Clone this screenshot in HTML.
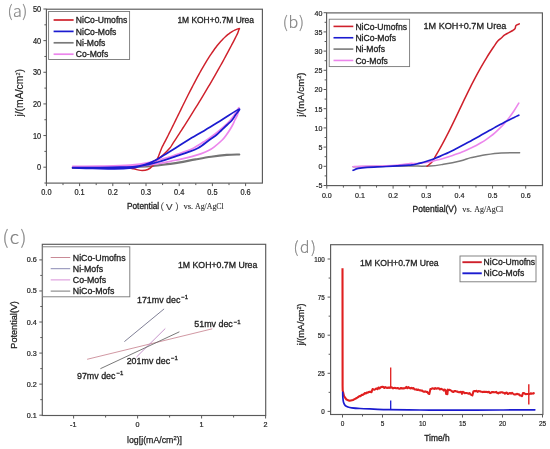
<!DOCTYPE html>
<html><head><meta charset="utf-8"><title>Figure</title>
<style>html,body{margin:0;padding:0;background:#fff;width:550px;height:449px;overflow:hidden}svg{display:block;filter:blur(0.35px)}</style>
</head><body>
<svg width="550" height="449" viewBox="0 0 550 449">
<rect width="550" height="449" fill="#fff"/>
<rect x="46.4" y="9.2" width="216" height="173.9" fill="none" stroke="#5a5a5a" stroke-width="1.15"/>
<line x1="46.4" y1="183.1" x2="46.4" y2="186.1" stroke="#5a5a5a" stroke-width="1"/>
<line x1="79.6" y1="183.1" x2="79.6" y2="186.1" stroke="#5a5a5a" stroke-width="1"/>
<line x1="112.8" y1="183.1" x2="112.8" y2="186.1" stroke="#5a5a5a" stroke-width="1"/>
<line x1="146" y1="183.1" x2="146" y2="186.1" stroke="#5a5a5a" stroke-width="1"/>
<line x1="179.2" y1="183.1" x2="179.2" y2="186.1" stroke="#5a5a5a" stroke-width="1"/>
<line x1="212.4" y1="183.1" x2="212.4" y2="186.1" stroke="#5a5a5a" stroke-width="1"/>
<line x1="245.6" y1="183.1" x2="245.6" y2="186.1" stroke="#5a5a5a" stroke-width="1"/>
<line x1="63" y1="183.1" x2="63" y2="185.1" stroke="#5a5a5a" stroke-width="1"/>
<line x1="96.2" y1="183.1" x2="96.2" y2="185.1" stroke="#5a5a5a" stroke-width="1"/>
<line x1="129.4" y1="183.1" x2="129.4" y2="185.1" stroke="#5a5a5a" stroke-width="1"/>
<line x1="162.6" y1="183.1" x2="162.6" y2="185.1" stroke="#5a5a5a" stroke-width="1"/>
<line x1="195.8" y1="183.1" x2="195.8" y2="185.1" stroke="#5a5a5a" stroke-width="1"/>
<line x1="229" y1="183.1" x2="229" y2="185.1" stroke="#5a5a5a" stroke-width="1"/>
<line x1="43.4" y1="167.2" x2="46.4" y2="167.2" stroke="#5a5a5a" stroke-width="1"/>
<line x1="43.4" y1="135.56" x2="46.4" y2="135.56" stroke="#5a5a5a" stroke-width="1"/>
<line x1="43.4" y1="103.92" x2="46.4" y2="103.92" stroke="#5a5a5a" stroke-width="1"/>
<line x1="43.4" y1="72.28" x2="46.4" y2="72.28" stroke="#5a5a5a" stroke-width="1"/>
<line x1="43.4" y1="40.64" x2="46.4" y2="40.64" stroke="#5a5a5a" stroke-width="1"/>
<line x1="43.4" y1="9" x2="46.4" y2="9" stroke="#5a5a5a" stroke-width="1"/>
<line x1="44.4" y1="151.38" x2="46.4" y2="151.38" stroke="#5a5a5a" stroke-width="1"/>
<line x1="44.4" y1="119.74" x2="46.4" y2="119.74" stroke="#5a5a5a" stroke-width="1"/>
<line x1="44.4" y1="88.1" x2="46.4" y2="88.1" stroke="#5a5a5a" stroke-width="1"/>
<line x1="44.4" y1="56.46" x2="46.4" y2="56.46" stroke="#5a5a5a" stroke-width="1"/>
<line x1="44.4" y1="24.82" x2="46.4" y2="24.82" stroke="#5a5a5a" stroke-width="1"/>
<line x1="44.4" y1="183.02" x2="46.4" y2="183.02" stroke="#5a5a5a" stroke-width="1"/>
<text x="46.4" y="195" font-size="8.2" font-family="'Liberation Sans', Arial, sans-serif" fill="#262626" stroke="#262626" stroke-width="0.22" text-anchor="middle" textLength="10.26" lengthAdjust="spacingAndGlyphs">0.0</text>
<text x="79.6" y="195" font-size="8.2" font-family="'Liberation Sans', Arial, sans-serif" fill="#262626" stroke="#262626" stroke-width="0.22" text-anchor="middle" textLength="10.26" lengthAdjust="spacingAndGlyphs">0.1</text>
<text x="112.8" y="195" font-size="8.2" font-family="'Liberation Sans', Arial, sans-serif" fill="#262626" stroke="#262626" stroke-width="0.22" text-anchor="middle" textLength="10.26" lengthAdjust="spacingAndGlyphs">0.2</text>
<text x="146" y="195" font-size="8.2" font-family="'Liberation Sans', Arial, sans-serif" fill="#262626" stroke="#262626" stroke-width="0.22" text-anchor="middle" textLength="10.26" lengthAdjust="spacingAndGlyphs">0.3</text>
<text x="179.2" y="195" font-size="8.2" font-family="'Liberation Sans', Arial, sans-serif" fill="#262626" stroke="#262626" stroke-width="0.22" text-anchor="middle" textLength="10.26" lengthAdjust="spacingAndGlyphs">0.4</text>
<text x="212.4" y="195" font-size="8.2" font-family="'Liberation Sans', Arial, sans-serif" fill="#262626" stroke="#262626" stroke-width="0.22" text-anchor="middle" textLength="10.26" lengthAdjust="spacingAndGlyphs">0.5</text>
<text x="245.6" y="195" font-size="8.2" font-family="'Liberation Sans', Arial, sans-serif" fill="#262626" stroke="#262626" stroke-width="0.22" text-anchor="middle" textLength="10.26" lengthAdjust="spacingAndGlyphs">0.6</text>
<text x="41.2" y="170.2" font-size="8.2" font-family="'Liberation Sans', Arial, sans-serif" fill="#262626" stroke="#262626" stroke-width="0.22" text-anchor="end" textLength="4.1" lengthAdjust="spacingAndGlyphs">0</text>
<text x="41.2" y="138.56" font-size="8.2" font-family="'Liberation Sans', Arial, sans-serif" fill="#262626" stroke="#262626" stroke-width="0.22" text-anchor="end" textLength="8.21" lengthAdjust="spacingAndGlyphs">10</text>
<text x="41.2" y="106.92" font-size="8.2" font-family="'Liberation Sans', Arial, sans-serif" fill="#262626" stroke="#262626" stroke-width="0.22" text-anchor="end" textLength="8.21" lengthAdjust="spacingAndGlyphs">20</text>
<text x="41.2" y="75.28" font-size="8.2" font-family="'Liberation Sans', Arial, sans-serif" fill="#262626" stroke="#262626" stroke-width="0.22" text-anchor="end" textLength="8.21" lengthAdjust="spacingAndGlyphs">30</text>
<text x="41.2" y="43.64" font-size="8.2" font-family="'Liberation Sans', Arial, sans-serif" fill="#262626" stroke="#262626" stroke-width="0.22" text-anchor="end" textLength="8.21" lengthAdjust="spacingAndGlyphs">40</text>
<text x="41.2" y="12" font-size="8.2" font-family="'Liberation Sans', Arial, sans-serif" fill="#262626" stroke="#262626" stroke-width="0.22" text-anchor="end" textLength="8.21" lengthAdjust="spacingAndGlyphs">50</text>
<text x="7.4" y="17.1" font-size="16" font-family="'Noto Sans CJK SC', 'DejaVu Sans', sans-serif" fill="#858585" stroke="#858585" stroke-width="0.2" font-weight="300" letter-spacing="0.5">(a)</text>
<text x="127" y="209.1" font-size="8.7" font-family="'Liberation Sans', Arial, sans-serif" fill="#222" stroke="#222" stroke-width="0.3" textLength="32.2" lengthAdjust="spacingAndGlyphs">Potential</text>
<text y="209.6" font-size="9" font-family="'Liberation Sans', Arial, sans-serif" fill="#333" stroke="#333" stroke-width="0.15"><tspan x="155.1" font-family="'Noto Sans CJK SC', sans-serif">（</tspan><tspan x="166" font-size="9.8">V</tspan><tspan x="175.2" font-family="'Noto Sans CJK SC', sans-serif">）</tspan></text>
<text y="209.4" font-size="8" font-family="'Liberation Serif', 'Noto Serif CJK SC', serif" fill="#2a2a2a" stroke="#2a2a2a" stroke-width="0.1"><tspan x="183.4" font-size="8.6" textLength="9.8" lengthAdjust="spacingAndGlyphs">vs.</tspan> <tspan x="195" textLength="28.8" lengthAdjust="spacingAndGlyphs">Ag/AgCl</tspan></text>
<text transform="translate(23,116.6) rotate(-90)" font-size="10.4" stroke="#222" stroke-width="0.15" font-family="'Liberation Sans', Arial, sans-serif" fill="#222">j/(mA/cm<tspan font-size="5.5" dy="-3">2</tspan><tspan dy="3">)</tspan></text>
<rect x="48.6" y="11.5" width="81" height="48" fill="#fff" stroke="#777" stroke-width="0.9"/>
<line x1="53.6" y1="20" x2="73.6" y2="20" stroke="#cf202b" stroke-width="1.7"/>
<text x="75.8" y="23.1" font-size="8.6" font-family="'Liberation Sans', Arial, sans-serif" fill="#222" stroke="#222" stroke-width="0.3">NiCo-Umofns</text>
<line x1="53.6" y1="31.4" x2="73.6" y2="31.4" stroke="#1b1bd0" stroke-width="1.7"/>
<text x="75.8" y="34.5" font-size="8.6" font-family="'Liberation Sans', Arial, sans-serif" fill="#222" stroke="#222" stroke-width="0.3">NiCo-Mofs</text>
<line x1="53.6" y1="42.8" x2="73.6" y2="42.8" stroke="#7a7a7a" stroke-width="1.7"/>
<text x="75.8" y="45.9" font-size="8.6" font-family="'Liberation Sans', Arial, sans-serif" fill="#222" stroke="#222" stroke-width="0.3">Ni-Mofs</text>
<line x1="53.6" y1="54.2" x2="73.6" y2="54.2" stroke="#ec86ec" stroke-width="1.7"/>
<text x="75.8" y="57.3" font-size="8.6" font-family="'Liberation Sans', Arial, sans-serif" fill="#222" stroke="#222" stroke-width="0.3">Co-Mofs</text>
<text x="177.4" y="22.5" font-size="8.4" font-family="'Liberation Sans', Arial, sans-serif" fill="#222" stroke="#222" stroke-width="0.3" textLength="76.6" lengthAdjust="spacingAndGlyphs">1M KOH+0.7M Urea</text>
<path d="M72.7,167.8 C78.92,167.77 98.78,167.77 110,167.6 C121.22,167.43 132.5,167.12 140,166.8 C147.5,166.48 150,166.18 155,165.7 C160,165.22 165.83,164.45 170,163.9 C174.17,163.35 175.73,163.15 180,162.4 C184.27,161.65 190.4,160.35 195.6,159.4 C200.8,158.45 206,157.45 211.2,156.7 C216.4,155.95 222.12,155.27 226.8,154.9 C231.48,154.53 237.22,154.57 239.3,154.5" fill="none" stroke="#747474" stroke-width="2.1" stroke-linejoin="round" stroke-linecap="round"/>
<path d="M72.7,167.6 C77.25,167.6 91.28,167.57 100,167.6 C108.72,167.63 119.4,167.6 125,167.8 C130.6,168 130.98,168.37 133.6,168.8 C136.22,169.23 138.33,170.28 140.7,170.4 C143.07,170.52 145.75,170.32 147.8,169.5 C149.85,168.68 151.38,167.33 153,165.5 C154.62,163.67 156.03,161.47 157.5,158.5 C158.97,155.53 160.69,150.23 161.8,147.68 C162.91,145.13 163.37,144.7 164.15,143.18 C164.94,141.67 165.72,140.14 166.51,138.6 C167.29,137.06 168.08,135.5 168.86,133.94 C169.65,132.38 170.43,130.8 171.22,129.22 C172,127.64 172.79,126.05 173.57,124.46 C174.36,122.87 175.14,121.27 175.93,119.67 C176.71,118.07 177.5,116.47 178.28,114.87 C179.07,113.27 179.85,111.67 180.64,110.07 C181.42,108.47 182.21,106.87 182.99,105.28 C183.78,103.69 184.56,102.1 185.35,100.52 C186.13,98.94 186.92,97.37 187.7,95.8 C188.48,94.24 189.27,92.69 190.05,91.14 C190.84,89.6 191.62,88.07 192.41,86.55 C193.19,85.04 193.98,83.53 194.76,82.05 C195.55,80.56 196.33,79.09 197.12,77.63 C197.9,76.18 198.69,74.75 199.47,73.33 C200.26,71.92 201.04,70.52 201.83,69.15 C202.61,67.78 203.4,66.43 204.18,65.1 C204.97,63.78 205.75,62.48 206.54,61.2 C207.32,59.93 208.11,58.68 208.89,57.46 C209.68,56.24 210.46,55.05 211.25,53.89 C212.03,52.73 212.82,51.6 213.6,50.5 C214.38,49.41 215.17,48.34 215.95,47.31 C216.74,46.28 217.52,45.28 218.31,44.32 C219.09,43.36 219.88,42.44 220.66,41.55 C221.45,40.67 222.23,39.82 223.02,39.01 C223.8,38.2 224.59,37.43 225.37,36.71 C226.16,35.98 226.94,35.3 227.73,34.66 C228.51,34.02 229.3,33.42 230.08,32.86 C230.87,32.31 231.65,31.8 232.44,31.34 C233.22,30.88 234.01,30.47 234.79,30.1 C235.58,29.74 236.36,29.42 237.15,29.16 C237.93,28.89 239.26,28.29 239.5,28.51 C239.74,28.73 238.91,29.69 238.6,30.5 C238.29,31.31 238.11,32.26 237.61,33.4 C237.11,34.54 236.28,36.03 235.61,37.35 C234.94,38.67 234.27,39.99 233.59,41.3 C232.91,42.62 232.22,43.94 231.53,45.26 C230.84,46.57 230.15,47.89 229.45,49.21 C228.75,50.52 228.05,51.84 227.34,53.16 C226.63,54.48 225.92,55.79 225.2,57.11 C224.49,58.43 223.77,59.74 223.04,61.06 C222.31,62.38 221.59,63.7 220.85,65.01 C220.12,66.33 219.38,67.65 218.64,68.97 C217.9,70.28 217.15,71.6 216.4,72.92 C215.65,74.23 214.89,75.55 214.14,76.87 C213.38,78.19 212.61,79.5 211.85,80.82 C211.08,82.14 210.31,83.46 209.54,84.77 C208.77,86.09 207.99,87.41 207.21,88.72 C206.43,90.04 205.64,91.36 204.85,92.68 C204.06,93.99 203.27,95.31 202.48,96.63 C201.68,97.94 200.88,99.26 200.08,100.58 C199.28,101.9 198.47,103.21 197.66,104.53 C196.85,105.85 196.04,107.17 195.22,108.48 C194.41,109.8 193.59,111.12 192.77,112.43 C191.94,113.75 191.12,115.07 190.29,116.39 C189.46,117.7 188.63,119.02 187.8,120.34 C186.96,121.66 186.12,122.97 185.28,124.29 C184.44,125.61 183.6,126.92 182.75,128.24 C181.91,129.56 181.06,130.88 180.21,132.19 C179.36,133.51 178.5,134.83 177.65,136.14 C176.79,137.46 175.93,138.78 175.07,140.1 C174.21,141.41 173.34,142.73 172.48,144.05 C171.61,145.37 171.45,146.17 169.87,148 C168.29,149.83 165.19,153.05 163,155 C160.81,156.95 159.23,158.17 156.7,159.7 C154.17,161.23 150.77,163.1 147.8,164.2 C144.83,165.3 141.87,165.77 138.9,166.3 C135.93,166.83 134.82,167.18 130,167.4 C125.18,167.62 119.55,167.57 110,167.6 C100.45,167.63 78.92,167.6 72.7,167.6" fill="none" stroke="#cf202b" stroke-width="1.45" stroke-linejoin="round" stroke-linecap="round"/>
<path d="M72.7,166.4 C77.25,166.37 90.45,166.4 100,166.2 C109.55,166 121.67,165.85 130,165.2 C138.33,164.55 143.33,163.7 150,162.3 C156.67,160.9 164.17,158.6 170,156.8 C175.83,155 181.03,152.97 185,151.5 C188.97,150.03 190.37,149.82 193.8,148 C197.23,146.18 202.73,142.43 205.6,140.6 C208.47,138.77 209.1,138.35 211,137 C212.9,135.65 214.83,134.25 217,132.5 C219.17,130.75 221.83,128.5 224,126.5 C226.17,124.5 228.17,122.58 230,120.5 C231.83,118.42 233.52,116.17 235,114 C236.48,111.83 238.5,107.33 238.9,107.5 C239.3,107.67 238.07,112.92 237.4,115 C236.73,117.08 235.7,118.33 234.9,120 C234.1,121.67 233.47,123.33 232.6,125 C231.73,126.67 230.75,128.33 229.7,130 C228.65,131.67 227.55,133.33 226.3,135 C225.05,136.67 224.2,138.03 222.2,140 C220.2,141.97 216.58,145.03 214.3,146.8 C212.02,148.57 210.65,149.47 208.5,150.6 C206.35,151.73 204.1,152.63 201.4,153.6 C198.7,154.57 195.33,155.57 192.3,156.4 C189.27,157.23 186.23,157.92 183.2,158.6 C180.17,159.28 178.52,159.63 174.1,160.5 C169.68,161.37 164.05,162.78 156.7,163.8 C149.35,164.82 139.45,166.07 130,166.6 C120.55,167.13 109.55,166.93 100,167 C90.45,167.07 77.25,167 72.7,167" fill="none" stroke="#ec86ec" stroke-width="1.7" stroke-linejoin="round" stroke-linecap="round"/>
<path d="M72.7,167.6 C77.25,167.58 92.12,167.57 100,167.5 C107.88,167.43 114.17,167.37 120,167.2 C125.83,167.03 130.83,166.95 135,166.5 C139.17,166.05 141.67,165.5 145,164.5 C148.33,163.5 151.67,162.17 155,160.5 C158.33,158.83 161.57,156.58 165,154.5 C168.43,152.42 171.73,150.42 175.6,148 C179.47,145.58 183.25,143 188.2,140 C193.15,137 199.73,133.33 205.3,130 C210.87,126.67 216,123.45 221.6,120 C227.2,116.55 236.58,110.13 238.9,109.3 C241.22,108.47 236.62,113.22 235.5,115 C234.38,116.78 233.62,118.33 232.2,120 C230.78,121.67 228.75,123.33 227,125 C225.25,126.67 223.47,128.33 221.7,130 C219.93,131.67 218.47,133.33 216.4,135 C214.33,136.67 212.33,137.83 209.3,140 C206.27,142.17 201.95,145.9 198.2,148 C194.45,150.1 190.67,151.17 186.8,152.6 C182.93,154.03 179.47,155.12 175,156.6 C170.53,158.08 164.62,160.15 160,161.5 C155.38,162.85 150.82,163.87 147.3,164.7 C143.78,165.53 141.45,165.95 138.9,166.5 C136.35,167.05 136.07,167.6 132,168 C127.93,168.4 121.05,168.83 114.5,168.9 C107.95,168.97 99.67,168.55 92.7,168.4 C85.73,168.25 76.03,168.07 72.7,168" fill="none" stroke="#1b1bd0" stroke-width="1.75" stroke-linejoin="round" stroke-linecap="round"/>
<rect x="326.6" y="12.9" width="215.8" height="172.7" fill="none" stroke="#5a5a5a" stroke-width="1.15"/>
<line x1="326.8" y1="185.6" x2="326.8" y2="188.6" stroke="#5a5a5a" stroke-width="1"/>
<line x1="359.95" y1="185.6" x2="359.95" y2="188.6" stroke="#5a5a5a" stroke-width="1"/>
<line x1="393.1" y1="185.6" x2="393.1" y2="188.6" stroke="#5a5a5a" stroke-width="1"/>
<line x1="426.25" y1="185.6" x2="426.25" y2="188.6" stroke="#5a5a5a" stroke-width="1"/>
<line x1="459.4" y1="185.6" x2="459.4" y2="188.6" stroke="#5a5a5a" stroke-width="1"/>
<line x1="492.55" y1="185.6" x2="492.55" y2="188.6" stroke="#5a5a5a" stroke-width="1"/>
<line x1="525.7" y1="185.6" x2="525.7" y2="188.6" stroke="#5a5a5a" stroke-width="1"/>
<line x1="343.38" y1="185.6" x2="343.38" y2="187.6" stroke="#5a5a5a" stroke-width="1"/>
<line x1="376.53" y1="185.6" x2="376.53" y2="187.6" stroke="#5a5a5a" stroke-width="1"/>
<line x1="409.68" y1="185.6" x2="409.68" y2="187.6" stroke="#5a5a5a" stroke-width="1"/>
<line x1="442.82" y1="185.6" x2="442.82" y2="187.6" stroke="#5a5a5a" stroke-width="1"/>
<line x1="475.98" y1="185.6" x2="475.98" y2="187.6" stroke="#5a5a5a" stroke-width="1"/>
<line x1="509.12" y1="185.6" x2="509.12" y2="187.6" stroke="#5a5a5a" stroke-width="1"/>
<line x1="323.6" y1="185.5" x2="326.6" y2="185.5" stroke="#5a5a5a" stroke-width="1"/>
<line x1="323.6" y1="166.3" x2="326.6" y2="166.3" stroke="#5a5a5a" stroke-width="1"/>
<line x1="323.6" y1="147.1" x2="326.6" y2="147.1" stroke="#5a5a5a" stroke-width="1"/>
<line x1="323.6" y1="127.9" x2="326.6" y2="127.9" stroke="#5a5a5a" stroke-width="1"/>
<line x1="323.6" y1="108.7" x2="326.6" y2="108.7" stroke="#5a5a5a" stroke-width="1"/>
<line x1="323.6" y1="89.5" x2="326.6" y2="89.5" stroke="#5a5a5a" stroke-width="1"/>
<line x1="323.6" y1="70.3" x2="326.6" y2="70.3" stroke="#5a5a5a" stroke-width="1"/>
<line x1="323.6" y1="51.1" x2="326.6" y2="51.1" stroke="#5a5a5a" stroke-width="1"/>
<line x1="323.6" y1="31.9" x2="326.6" y2="31.9" stroke="#5a5a5a" stroke-width="1"/>
<line x1="323.6" y1="12.7" x2="326.6" y2="12.7" stroke="#5a5a5a" stroke-width="1"/>
<line x1="324.6" y1="175.9" x2="326.6" y2="175.9" stroke="#5a5a5a" stroke-width="1"/>
<line x1="324.6" y1="156.7" x2="326.6" y2="156.7" stroke="#5a5a5a" stroke-width="1"/>
<line x1="324.6" y1="137.5" x2="326.6" y2="137.5" stroke="#5a5a5a" stroke-width="1"/>
<line x1="324.6" y1="118.3" x2="326.6" y2="118.3" stroke="#5a5a5a" stroke-width="1"/>
<line x1="324.6" y1="99.1" x2="326.6" y2="99.1" stroke="#5a5a5a" stroke-width="1"/>
<line x1="324.6" y1="79.9" x2="326.6" y2="79.9" stroke="#5a5a5a" stroke-width="1"/>
<line x1="324.6" y1="60.7" x2="326.6" y2="60.7" stroke="#5a5a5a" stroke-width="1"/>
<line x1="324.6" y1="41.5" x2="326.6" y2="41.5" stroke="#5a5a5a" stroke-width="1"/>
<line x1="324.6" y1="22.3" x2="326.6" y2="22.3" stroke="#5a5a5a" stroke-width="1"/>
<text x="326.8" y="197.8" font-size="7.7" font-family="'Liberation Sans', Arial, sans-serif" fill="#262626" stroke="#262626" stroke-width="0.22" text-anchor="middle" textLength="9.85" lengthAdjust="spacingAndGlyphs">0.0</text>
<text x="359.95" y="197.8" font-size="7.7" font-family="'Liberation Sans', Arial, sans-serif" fill="#262626" stroke="#262626" stroke-width="0.22" text-anchor="middle" textLength="9.85" lengthAdjust="spacingAndGlyphs">0.1</text>
<text x="393.1" y="197.8" font-size="7.7" font-family="'Liberation Sans', Arial, sans-serif" fill="#262626" stroke="#262626" stroke-width="0.22" text-anchor="middle" textLength="9.85" lengthAdjust="spacingAndGlyphs">0.2</text>
<text x="426.25" y="197.8" font-size="7.7" font-family="'Liberation Sans', Arial, sans-serif" fill="#262626" stroke="#262626" stroke-width="0.22" text-anchor="middle" textLength="9.85" lengthAdjust="spacingAndGlyphs">0.3</text>
<text x="459.4" y="197.8" font-size="7.7" font-family="'Liberation Sans', Arial, sans-serif" fill="#262626" stroke="#262626" stroke-width="0.22" text-anchor="middle" textLength="9.85" lengthAdjust="spacingAndGlyphs">0.4</text>
<text x="492.55" y="197.8" font-size="7.7" font-family="'Liberation Sans', Arial, sans-serif" fill="#262626" stroke="#262626" stroke-width="0.22" text-anchor="middle" textLength="9.85" lengthAdjust="spacingAndGlyphs">0.5</text>
<text x="525.7" y="197.8" font-size="7.7" font-family="'Liberation Sans', Arial, sans-serif" fill="#262626" stroke="#262626" stroke-width="0.22" text-anchor="middle" textLength="9.85" lengthAdjust="spacingAndGlyphs">0.6</text>
<text x="322.4" y="188.3" font-size="7.7" font-family="'Liberation Sans', Arial, sans-serif" fill="#262626" stroke="#262626" stroke-width="0.22" text-anchor="end" textLength="6.3" lengthAdjust="spacingAndGlyphs">-5</text>
<text x="322.4" y="169.1" font-size="7.7" font-family="'Liberation Sans', Arial, sans-serif" fill="#262626" stroke="#262626" stroke-width="0.22" text-anchor="end" textLength="3.94" lengthAdjust="spacingAndGlyphs">0</text>
<text x="322.4" y="149.9" font-size="7.7" font-family="'Liberation Sans', Arial, sans-serif" fill="#262626" stroke="#262626" stroke-width="0.22" text-anchor="end" textLength="3.94" lengthAdjust="spacingAndGlyphs">5</text>
<text x="322.4" y="130.7" font-size="7.7" font-family="'Liberation Sans', Arial, sans-serif" fill="#262626" stroke="#262626" stroke-width="0.22" text-anchor="end" textLength="7.88" lengthAdjust="spacingAndGlyphs">10</text>
<text x="322.4" y="111.5" font-size="7.7" font-family="'Liberation Sans', Arial, sans-serif" fill="#262626" stroke="#262626" stroke-width="0.22" text-anchor="end" textLength="7.88" lengthAdjust="spacingAndGlyphs">15</text>
<text x="322.4" y="92.3" font-size="7.7" font-family="'Liberation Sans', Arial, sans-serif" fill="#262626" stroke="#262626" stroke-width="0.22" text-anchor="end" textLength="7.88" lengthAdjust="spacingAndGlyphs">20</text>
<text x="322.4" y="73.1" font-size="7.7" font-family="'Liberation Sans', Arial, sans-serif" fill="#262626" stroke="#262626" stroke-width="0.22" text-anchor="end" textLength="7.88" lengthAdjust="spacingAndGlyphs">25</text>
<text x="322.4" y="53.9" font-size="7.7" font-family="'Liberation Sans', Arial, sans-serif" fill="#262626" stroke="#262626" stroke-width="0.22" text-anchor="end" textLength="7.88" lengthAdjust="spacingAndGlyphs">30</text>
<text x="322.4" y="34.7" font-size="7.7" font-family="'Liberation Sans', Arial, sans-serif" fill="#262626" stroke="#262626" stroke-width="0.22" text-anchor="end" textLength="7.88" lengthAdjust="spacingAndGlyphs">35</text>
<text x="322.4" y="15.5" font-size="7.7" font-family="'Liberation Sans', Arial, sans-serif" fill="#262626" stroke="#262626" stroke-width="0.22" text-anchor="end" textLength="7.88" lengthAdjust="spacingAndGlyphs">40</text>
<text x="282.8" y="28.4" font-size="16" font-family="'Noto Sans CJK SC', 'DejaVu Sans', sans-serif" fill="#858585" stroke="#858585" stroke-width="0.2" font-weight="300" letter-spacing="0.7">(b)</text>
<text x="412.6" y="211.5" font-size="8.6" font-family="'Liberation Sans', Arial, sans-serif" fill="#222" stroke="#222" stroke-width="0.3" textLength="44.2" lengthAdjust="spacingAndGlyphs">Potential(V)</text>
<text y="212" font-size="8" font-family="'Liberation Serif', 'Noto Serif CJK SC', serif" fill="#2a2a2a" stroke="#2a2a2a" stroke-width="0.1"><tspan x="462.3" font-size="8.6" textLength="9.6" lengthAdjust="spacingAndGlyphs">vs.</tspan> <tspan x="474.3" textLength="28.9" lengthAdjust="spacingAndGlyphs">Ag/AgCl</tspan></text>
<text transform="translate(304.1,116.7) rotate(-90)" font-size="9.6" stroke="#222" stroke-width="0.25" font-family="'Liberation Sans', Arial, sans-serif" fill="#222">j/(mA/cm<tspan font-size="5.5" dy="-3">2</tspan><tspan dy="3">)</tspan></text>
<rect x="329.2" y="19.2" width="80.4" height="47.4" fill="#fff" stroke="#777" stroke-width="0.9"/>
<line x1="333.5" y1="26.4" x2="353.3" y2="26.4" stroke="#cf202b" stroke-width="1.6"/>
<text x="355.4" y="29.6" font-size="8.6" font-family="'Liberation Sans', Arial, sans-serif" fill="#222" stroke="#222" stroke-width="0.3">NiCo-Umofns</text>
<line x1="333.5" y1="37.75" x2="353.3" y2="37.75" stroke="#1b1bd0" stroke-width="1.6"/>
<text x="355.4" y="40.95" font-size="8.6" font-family="'Liberation Sans', Arial, sans-serif" fill="#222" stroke="#222" stroke-width="0.3">NiCo-Mofs</text>
<line x1="333.5" y1="49.1" x2="353.3" y2="49.1" stroke="#7a7a7a" stroke-width="1.6"/>
<text x="355.4" y="52.3" font-size="8.6" font-family="'Liberation Sans', Arial, sans-serif" fill="#222" stroke="#222" stroke-width="0.3">Ni-Mofs</text>
<line x1="333.5" y1="60.45" x2="353.3" y2="60.45" stroke="#ec86ec" stroke-width="1.6"/>
<text x="355.4" y="63.65" font-size="8.6" font-family="'Liberation Sans', Arial, sans-serif" fill="#222" stroke="#222" stroke-width="0.3">Co-Mofs</text>
<text x="423.5" y="28.9" font-size="9.4" font-family="'Liberation Sans', Arial, sans-serif" fill="#222" stroke="#222" stroke-width="0.3" textLength="82.8" lengthAdjust="spacingAndGlyphs">1M KOH+0.7M Urea</text>
<path d="M353.1,166.7 C358.62,166.63 376.72,166.4 386.2,166.3 C395.68,166.2 402.7,166.15 410,166.1 C417.3,166.05 424.43,166.3 430,166 C435.57,165.7 438.38,165.13 443.4,164.3 C448.42,163.47 455.67,162.07 460.1,161 C464.53,159.93 467.22,158.65 470,157.9 C472.78,157.15 474.2,157.03 476.8,156.5 C479.4,155.97 481.53,155.3 485.6,154.7 C489.67,154.1 495.53,153.23 501.2,152.9 C506.87,152.57 516.53,152.73 519.6,152.7" fill="none" stroke="#7a7a7a" stroke-width="1.5" stroke-linejoin="round" stroke-linecap="round"/>
<path d="M427,166.3 C427.83,165.58 430.55,163.68 431.97,162 C433.38,160.32 434.35,158.16 435.49,156.24 C436.64,154.32 437.75,152.4 438.85,150.48 C439.94,148.56 441,146.63 442.05,144.71 C443.1,142.79 444.12,140.87 445.12,138.95 C446.13,137.03 447.12,135.11 448.09,133.19 C449.06,131.27 450.02,129.35 450.97,127.43 C451.92,125.51 452.85,123.59 453.78,121.67 C454.71,119.75 455.63,117.83 456.54,115.9 C457.46,113.98 458.37,112.06 459.28,110.14 C460.19,108.22 461.1,106.3 462.02,104.38 C462.93,102.46 463.85,100.54 464.77,98.62 C465.69,96.7 466.62,94.78 467.56,92.86 C468.5,90.94 469.44,89.02 470.41,87.1 C471.37,85.17 472.34,83.25 473.33,81.33 C474.33,79.41 475.33,77.49 476.36,75.57 C477.39,73.65 478.43,71.73 479.51,69.81 C480.58,67.89 481.67,65.97 482.8,64.05 C483.92,62.13 485.07,60.21 486.25,58.29 C487.43,56.37 488.64,54.44 489.89,52.52 C491.13,50.6 492.41,48.68 493.73,46.76 C495.05,44.84 496.43,42.54 497.8,41 C499.16,39.46 500.87,38.45 501.9,37.5 C502.93,36.55 503.1,35.97 504,35.3 C504.9,34.63 505.83,34.3 507.3,33.5 C508.77,32.7 511.52,31.3 512.8,30.5 C514.08,29.7 514.47,29.53 515,28.7 C515.53,27.87 515.28,26.3 516,25.5 C516.72,24.7 518.75,24.17 519.3,23.9" fill="none" stroke="#cf202b" stroke-width="1.5" stroke-linejoin="round" stroke-linecap="round"/>
<path d="M353.1,166.7 C354.37,166.62 355.18,166.35 360.7,166.2 C366.22,166.05 379.65,166.03 386.2,165.8 C392.75,165.57 396.03,165.19 400,164.8 C403.97,164.41 407.54,163.64 410,163.43 C412.46,163.22 413.15,163.55 414.73,163.52 C416.31,163.49 417.88,163.39 419.46,163.26 C421.04,163.12 422.61,162.92 424.19,162.7 C425.77,162.47 427.34,162.2 428.92,161.9 C430.5,161.6 432.08,161.26 433.65,160.89 C435.23,160.53 436.81,160.14 438.38,159.73 C439.96,159.31 441.54,158.87 443.11,158.42 C444.69,157.96 446.27,157.48 447.84,156.98 C449.42,156.48 451,155.96 452.57,155.42 C454.15,154.88 455.73,154.32 457.3,153.74 C458.88,153.16 460.46,152.56 462.03,151.93 C463.61,151.29 465.19,150.64 466.77,149.96 C468.34,149.27 469.92,148.56 471.5,147.8 C473.07,147.04 474.65,146.26 476.23,145.42 C477.8,144.58 479.38,143.71 480.96,142.77 C482.53,141.83 484.11,140.85 485.69,139.79 C487.26,138.74 488.84,137.62 490.42,136.42 C491.99,135.22 493.57,133.96 495.15,132.58 C496.72,131.21 498.3,129.76 499.88,128.19 C501.46,126.62 503.03,124.96 504.61,123.16 C506.19,121.35 507.76,119.44 509.34,117.37 C510.92,115.3 512.49,113.11 514.07,110.74 C515.65,108.36 518.01,104.39 518.8,103.12" fill="none" stroke="#ec86ec" stroke-width="1.6" stroke-linejoin="round" stroke-linecap="round"/>
<path d="M353.1,170.3 C353.95,169.98 355.87,168.9 358.2,168.4 C360.53,167.9 362.43,167.62 367.1,167.3 C371.77,166.98 379.83,166.82 386.2,166.5 C392.57,166.18 401,165.66 405.3,165.4 C409.6,165.14 410.11,165.19 412,164.96 C413.89,164.73 415.1,164.37 416.64,164.02 C418.19,163.67 419.74,163.29 421.29,162.87 C422.83,162.45 424.38,161.99 425.93,161.51 C427.48,161.02 429.03,160.5 430.57,159.96 C432.12,159.41 433.67,158.83 435.22,158.23 C436.77,157.63 438.31,157 439.86,156.35 C441.41,155.7 442.96,155.02 444.5,154.32 C446.05,153.63 447.6,152.91 449.15,152.17 C450.7,151.43 452.24,150.68 453.79,149.91 C455.34,149.14 456.89,148.35 458.43,147.55 C459.98,146.75 461.53,145.93 463.08,145.11 C464.63,144.28 466.17,143.44 467.72,142.6 C469.27,141.76 470.82,140.9 472.37,140.05 C473.91,139.19 475.46,138.33 477.01,137.46 C478.56,136.59 480.1,135.72 481.65,134.85 C483.2,133.98 484.75,133.11 486.3,132.25 C487.84,131.38 489.39,130.51 490.94,129.65 C492.49,128.79 494.03,127.93 495.58,127.08 C497.13,126.23 498.68,125.39 500.23,124.56 C501.77,123.73 503.32,122.91 504.87,122.1 C506.42,121.29 507.97,120.49 509.51,119.71 C511.06,118.93 512.61,118.16 514.16,117.41 C515.7,116.67 518.03,115.59 518.8,115.23" fill="none" stroke="#1b1bd0" stroke-width="1.7" stroke-linejoin="round" stroke-linecap="round"/>
<rect x="42.3" y="244.3" width="223.4" height="171.2" fill="none" stroke="#5a5a5a" stroke-width="1.15"/>
<line x1="73.6" y1="415.5" x2="73.6" y2="418.5" stroke="#5a5a5a" stroke-width="1"/>
<line x1="137.6" y1="415.5" x2="137.6" y2="418.5" stroke="#5a5a5a" stroke-width="1"/>
<line x1="201.6" y1="415.5" x2="201.6" y2="418.5" stroke="#5a5a5a" stroke-width="1"/>
<line x1="265.6" y1="415.5" x2="265.6" y2="418.5" stroke="#5a5a5a" stroke-width="1"/>
<line x1="105.6" y1="415.5" x2="105.6" y2="417.5" stroke="#5a5a5a" stroke-width="1"/>
<line x1="169.6" y1="415.5" x2="169.6" y2="417.5" stroke="#5a5a5a" stroke-width="1"/>
<line x1="233.6" y1="415.5" x2="233.6" y2="417.5" stroke="#5a5a5a" stroke-width="1"/>
<line x1="39.3" y1="415.2" x2="42.3" y2="415.2" stroke="#5a5a5a" stroke-width="1"/>
<line x1="39.3" y1="384.14" x2="42.3" y2="384.14" stroke="#5a5a5a" stroke-width="1"/>
<line x1="39.3" y1="353.08" x2="42.3" y2="353.08" stroke="#5a5a5a" stroke-width="1"/>
<line x1="39.3" y1="322.02" x2="42.3" y2="322.02" stroke="#5a5a5a" stroke-width="1"/>
<line x1="39.3" y1="290.96" x2="42.3" y2="290.96" stroke="#5a5a5a" stroke-width="1"/>
<line x1="39.3" y1="259.9" x2="42.3" y2="259.9" stroke="#5a5a5a" stroke-width="1"/>
<line x1="40.3" y1="399.67" x2="42.3" y2="399.67" stroke="#5a5a5a" stroke-width="1"/>
<line x1="40.3" y1="368.61" x2="42.3" y2="368.61" stroke="#5a5a5a" stroke-width="1"/>
<line x1="40.3" y1="337.55" x2="42.3" y2="337.55" stroke="#5a5a5a" stroke-width="1"/>
<line x1="40.3" y1="306.49" x2="42.3" y2="306.49" stroke="#5a5a5a" stroke-width="1"/>
<line x1="40.3" y1="275.43" x2="42.3" y2="275.43" stroke="#5a5a5a" stroke-width="1"/>
<text x="73.2" y="427" font-size="7.2" font-family="'Liberation Sans', Arial, sans-serif" fill="#262626" stroke="#262626" stroke-width="0.22" text-anchor="middle" textLength="6.4" lengthAdjust="spacingAndGlyphs">-1</text>
<text x="137.6" y="427" font-size="7.2" font-family="'Liberation Sans', Arial, sans-serif" fill="#262626" stroke="#262626" stroke-width="0.22" text-anchor="middle" textLength="4" lengthAdjust="spacingAndGlyphs">0</text>
<text x="201.6" y="427" font-size="7.2" font-family="'Liberation Sans', Arial, sans-serif" fill="#262626" stroke="#262626" stroke-width="0.22" text-anchor="middle" textLength="4" lengthAdjust="spacingAndGlyphs">1</text>
<text x="265.6" y="427" font-size="7.2" font-family="'Liberation Sans', Arial, sans-serif" fill="#262626" stroke="#262626" stroke-width="0.22" text-anchor="middle" textLength="4" lengthAdjust="spacingAndGlyphs">2</text>
<text x="36.8" y="417.7" font-size="7.2" font-family="'Liberation Sans', Arial, sans-serif" fill="#262626" stroke="#262626" stroke-width="0.22" text-anchor="end" textLength="10.01" lengthAdjust="spacingAndGlyphs">0.1</text>
<text x="36.8" y="386.64" font-size="7.2" font-family="'Liberation Sans', Arial, sans-serif" fill="#262626" stroke="#262626" stroke-width="0.22" text-anchor="end" textLength="10.01" lengthAdjust="spacingAndGlyphs">0.2</text>
<text x="36.8" y="355.58" font-size="7.2" font-family="'Liberation Sans', Arial, sans-serif" fill="#262626" stroke="#262626" stroke-width="0.22" text-anchor="end" textLength="10.01" lengthAdjust="spacingAndGlyphs">0.3</text>
<text x="36.8" y="324.52" font-size="7.2" font-family="'Liberation Sans', Arial, sans-serif" fill="#262626" stroke="#262626" stroke-width="0.22" text-anchor="end" textLength="10.01" lengthAdjust="spacingAndGlyphs">0.4</text>
<text x="36.8" y="293.46" font-size="7.2" font-family="'Liberation Sans', Arial, sans-serif" fill="#262626" stroke="#262626" stroke-width="0.22" text-anchor="end" textLength="10.01" lengthAdjust="spacingAndGlyphs">0.5</text>
<text x="36.8" y="262.4" font-size="7.2" font-family="'Liberation Sans', Arial, sans-serif" fill="#262626" stroke="#262626" stroke-width="0.22" text-anchor="end" textLength="10.01" lengthAdjust="spacingAndGlyphs">0.6</text>
<text x="2.6" y="244.1" font-size="18.8" font-family="'Noto Sans CJK SC', 'DejaVu Sans', sans-serif" fill="#858585" stroke="#858585" stroke-width="0.2" font-weight="300" letter-spacing="1.3">(c)</text>
<text x="127" y="443.4" font-size="8.8" font-family="'Liberation Sans', Arial, sans-serif" fill="#222" stroke="#222" stroke-width="0.25">log[j(mA/cm<tspan font-size="5.8" dy="-3.3">2</tspan><tspan dy="3.3">)]</tspan></text>
<text transform="translate(17,348.7) rotate(-90)" font-size="8.4" font-family="'Liberation Sans', Arial, sans-serif" fill="#222" stroke="#222" stroke-width="0.25" textLength="47.6" lengthAdjust="spacingAndGlyphs">Potential(V)</text>
<rect x="42.6" y="246.8" width="87.2" height="50" fill="#fff" stroke="#777" stroke-width="0.9"/>
<line x1="50.7" y1="257.5" x2="70.2" y2="257.5" stroke="#c98a96" stroke-width="1.0"/>
<text x="72.8" y="260.7" font-size="8.8" font-family="'Liberation Sans', Arial, sans-serif" fill="#222" stroke="#222" stroke-width="0.3">NiCo-Umofns</text>
<line x1="50.7" y1="268.7" x2="70.2" y2="268.7" stroke="#8a8ab4" stroke-width="1.0"/>
<text x="72.8" y="271.9" font-size="8.8" font-family="'Liberation Sans', Arial, sans-serif" fill="#222" stroke="#222" stroke-width="0.3">Ni-Mofs</text>
<line x1="50.7" y1="279.9" x2="70.2" y2="279.9" stroke="#d890d8" stroke-width="1.0"/>
<text x="72.8" y="283.1" font-size="8.8" font-family="'Liberation Sans', Arial, sans-serif" fill="#222" stroke="#222" stroke-width="0.3">Co-Mofs</text>
<line x1="50.7" y1="291.1" x2="70.2" y2="291.1" stroke="#777" stroke-width="1.0"/>
<text x="72.8" y="294.3" font-size="8.8" font-family="'Liberation Sans', Arial, sans-serif" fill="#222" stroke="#222" stroke-width="0.3">NiCo-Mofs</text>
<text x="178" y="268" font-size="8.4" font-family="'Liberation Sans', Arial, sans-serif" fill="#222" stroke="#222" stroke-width="0.3" textLength="79.3" lengthAdjust="spacingAndGlyphs">1M KOH+0.7M Urea</text>
<line x1="87.1" y1="359.3" x2="212.3" y2="328.8" stroke="#cc8c98" stroke-width="0.9"/>
<line x1="124.4" y1="341.6" x2="164.1" y2="308.9" stroke="#72728a" stroke-width="0.9"/>
<line x1="136.4" y1="357.1" x2="165.3" y2="328.5" stroke="#c088c4" stroke-width="0.9"/>
<line x1="100.4" y1="368.7" x2="179.4" y2="331.8" stroke="#6a6a6a" stroke-width="0.9"/>
<text x="137" y="302.5" font-size="8.9" font-family="'Liberation Sans', Arial, sans-serif" fill="#222" stroke="#222" stroke-width="0.3">171mv dec<tspan font-size="6" dx="0.9" dy="-3.8">−1</tspan></text>
<text x="194.3" y="327.4" font-size="8.9" font-family="'Liberation Sans', Arial, sans-serif" fill="#222" stroke="#222" stroke-width="0.3">51mv dec<tspan font-size="6" dx="0.9" dy="-3.8">−1</tspan></text>
<text x="126.7" y="363.7" font-size="8.9" font-family="'Liberation Sans', Arial, sans-serif" fill="#222" stroke="#222" stroke-width="0.3">201mv dec<tspan font-size="6" dx="0.9" dy="-3.8">−1</tspan></text>
<text x="77" y="378.7" font-size="8.9" font-family="'Liberation Sans', Arial, sans-serif" fill="#222" stroke="#222" stroke-width="0.3">97mv dec<tspan font-size="6" dx="0.9" dy="-3.8">−1</tspan></text>
<rect x="330.6" y="244.7" width="212.3" height="169.8" fill="none" stroke="#5a5a5a" stroke-width="1.15"/>
<line x1="342.5" y1="414.5" x2="342.5" y2="417.5" stroke="#5a5a5a" stroke-width="1"/>
<line x1="382.5" y1="414.5" x2="382.5" y2="417.5" stroke="#5a5a5a" stroke-width="1"/>
<line x1="422.5" y1="414.5" x2="422.5" y2="417.5" stroke="#5a5a5a" stroke-width="1"/>
<line x1="462.5" y1="414.5" x2="462.5" y2="417.5" stroke="#5a5a5a" stroke-width="1"/>
<line x1="502.5" y1="414.5" x2="502.5" y2="417.5" stroke="#5a5a5a" stroke-width="1"/>
<line x1="542.5" y1="414.5" x2="542.5" y2="417.5" stroke="#5a5a5a" stroke-width="1"/>
<line x1="362.5" y1="414.5" x2="362.5" y2="416.5" stroke="#5a5a5a" stroke-width="1"/>
<line x1="402.5" y1="414.5" x2="402.5" y2="416.5" stroke="#5a5a5a" stroke-width="1"/>
<line x1="442.5" y1="414.5" x2="442.5" y2="416.5" stroke="#5a5a5a" stroke-width="1"/>
<line x1="482.5" y1="414.5" x2="482.5" y2="416.5" stroke="#5a5a5a" stroke-width="1"/>
<line x1="522.5" y1="414.5" x2="522.5" y2="416.5" stroke="#5a5a5a" stroke-width="1"/>
<line x1="327.6" y1="411.4" x2="330.6" y2="411.4" stroke="#5a5a5a" stroke-width="1"/>
<line x1="327.6" y1="373.3" x2="330.6" y2="373.3" stroke="#5a5a5a" stroke-width="1"/>
<line x1="327.6" y1="335.2" x2="330.6" y2="335.2" stroke="#5a5a5a" stroke-width="1"/>
<line x1="327.6" y1="297.1" x2="330.6" y2="297.1" stroke="#5a5a5a" stroke-width="1"/>
<line x1="327.6" y1="259" x2="330.6" y2="259" stroke="#5a5a5a" stroke-width="1"/>
<line x1="328.6" y1="392.35" x2="330.6" y2="392.35" stroke="#5a5a5a" stroke-width="1"/>
<line x1="328.6" y1="354.25" x2="330.6" y2="354.25" stroke="#5a5a5a" stroke-width="1"/>
<line x1="328.6" y1="316.15" x2="330.6" y2="316.15" stroke="#5a5a5a" stroke-width="1"/>
<line x1="328.6" y1="278.05" x2="330.6" y2="278.05" stroke="#5a5a5a" stroke-width="1"/>
<text x="342.5" y="426.2" font-size="7.9" font-family="'Liberation Sans', Arial, sans-serif" fill="#262626" stroke="#262626" stroke-width="0.22" text-anchor="middle" textLength="3.6" lengthAdjust="spacingAndGlyphs">0</text>
<text x="382.5" y="426.2" font-size="7.9" font-family="'Liberation Sans', Arial, sans-serif" fill="#262626" stroke="#262626" stroke-width="0.22" text-anchor="middle" textLength="3.6" lengthAdjust="spacingAndGlyphs">5</text>
<text x="422.5" y="426.2" font-size="7.9" font-family="'Liberation Sans', Arial, sans-serif" fill="#262626" stroke="#262626" stroke-width="0.22" text-anchor="middle" textLength="7.2" lengthAdjust="spacingAndGlyphs">10</text>
<text x="462.5" y="426.2" font-size="7.9" font-family="'Liberation Sans', Arial, sans-serif" fill="#262626" stroke="#262626" stroke-width="0.22" text-anchor="middle" textLength="7.2" lengthAdjust="spacingAndGlyphs">15</text>
<text x="502.5" y="426.2" font-size="7.9" font-family="'Liberation Sans', Arial, sans-serif" fill="#262626" stroke="#262626" stroke-width="0.22" text-anchor="middle" textLength="7.2" lengthAdjust="spacingAndGlyphs">20</text>
<text x="542.5" y="426.2" font-size="7.9" font-family="'Liberation Sans', Arial, sans-serif" fill="#262626" stroke="#262626" stroke-width="0.22" text-anchor="middle" textLength="7.2" lengthAdjust="spacingAndGlyphs">25</text>
<text x="324.8" y="414" font-size="7.3" font-family="'Liberation Sans', Arial, sans-serif" fill="#262626" stroke="#262626" stroke-width="0.22" text-anchor="end" textLength="3.49" lengthAdjust="spacingAndGlyphs">0</text>
<text x="324.8" y="375.9" font-size="7.3" font-family="'Liberation Sans', Arial, sans-serif" fill="#262626" stroke="#262626" stroke-width="0.22" text-anchor="end" textLength="6.98" lengthAdjust="spacingAndGlyphs">25</text>
<text x="324.8" y="337.8" font-size="7.3" font-family="'Liberation Sans', Arial, sans-serif" fill="#262626" stroke="#262626" stroke-width="0.22" text-anchor="end" textLength="6.98" lengthAdjust="spacingAndGlyphs">50</text>
<text x="324.8" y="299.7" font-size="7.3" font-family="'Liberation Sans', Arial, sans-serif" fill="#262626" stroke="#262626" stroke-width="0.22" text-anchor="end" textLength="6.98" lengthAdjust="spacingAndGlyphs">75</text>
<text x="324.8" y="261.6" font-size="7.3" font-family="'Liberation Sans', Arial, sans-serif" fill="#262626" stroke="#262626" stroke-width="0.22" text-anchor="end" textLength="10.47" lengthAdjust="spacingAndGlyphs">100</text>
<text x="293.4" y="253" font-size="15.6" font-family="'Noto Sans CJK SC', 'DejaVu Sans', sans-serif" fill="#858585" stroke="#858585" stroke-width="0.2" font-weight="300" letter-spacing="1.6">(d)</text>
<text x="424.3" y="440.5" font-size="8.4" font-family="'Liberation Sans', Arial, sans-serif" fill="#222" stroke="#222" stroke-width="0.3">Time/h</text>
<text transform="translate(304.1,345.3) rotate(-90)" font-size="9.1" font-family="'Liberation Sans', Arial, sans-serif" fill="#222" stroke="#222" stroke-width="0.25">j/(mA/cm<tspan font-size="5.3" dy="-3">2</tspan><tspan dy="3">)</tspan></text>
<rect x="460" y="256" width="76" height="25.8" fill="#fff" stroke="#777" stroke-width="0.9"/>
<line x1="462.4" y1="262.2" x2="481.8" y2="262.2" stroke="#cf202b" stroke-width="1.9"/>
<text x="483.6" y="265.3" font-size="8.6" font-family="'Liberation Sans', Arial, sans-serif" fill="#222" stroke="#222" stroke-width="0.3">NiCo-Umofns</text>
<line x1="462.4" y1="273.3" x2="481.8" y2="273.3" stroke="#1b1bd0" stroke-width="1.9"/>
<text x="483.6" y="276.4" font-size="8.6" font-family="'Liberation Sans', Arial, sans-serif" fill="#222" stroke="#222" stroke-width="0.3">NiCo-Mofs</text>
<text x="360" y="266.4" font-size="8.6" font-family="'Liberation Sans', Arial, sans-serif" fill="#222" stroke="#222" stroke-width="0.3" textLength="78.5" lengthAdjust="spacingAndGlyphs">1M KOH+0.7M Urea</text>
<polyline points="342.5,268.2 342.6,386 342.7,390.6 344,396 345.25,397.8 346.5,399.6 347.57,400 348.63,400.4 349.7,400.8 350.8,400.53 351.9,400.27 353,400 354.08,399.42 355.16,398.84 356.24,398.26 357.32,397.68 358.4,396.84 359.48,396.03 360.57,396.23 361.65,394.81 362.73,394.95 363.82,394.15 364.9,393.14 365.84,393.51 366.79,392.51 367.73,392.8 368.67,391.95 369.61,391.69 370.56,391.89 371.5,392.19 372,390.64 372.6,389.08 373.58,389.47 374.56,389.73 375.54,388.96 376.52,388.47 377.5,389.11 378.48,387.5 379.46,388.5 380.44,387.42 381.42,386.99 382.4,386.73 383.37,387.09 384.33,387.93 385.3,387.05 386.27,387.73 387.23,387.9 388.2,387.58 389.17,387.92 390.13,387.27 391.1,387.34 392.09,387.6 393.08,388.34 394.07,388 395.06,387.87 396.05,388.31 397.05,388.15 398.04,387.95 399.03,388.73 400.02,388.63 401.01,387.98 402,388.51 403.1,388.16 404.2,388.41 405.3,387.92 406.4,386.98 407.39,388.22 408.38,387.13 409.37,387.78 410.36,388.49 411.35,387.78 412.35,388.48 413.34,388.01 414.33,389.15 415.32,389.5 416.31,389.41 417.3,390.06 418.28,389.47 419.26,390.28 420.23,390.37 421.21,390.6 422.19,390.66 423.17,391.48 424.14,391.88 425.12,391.42 426.1,391.95 427.17,391.74 428.23,393.4 429.3,394.02 430.4,389.14 431.36,388.95 432.32,388.22 433.28,388.44 434.24,388.93 435.2,388.03 436.16,388.76 437.12,388.39 438.08,388.39 439.04,388.37 440,389.5 440.95,388.77 441.9,389.17 442.85,389.61 443.8,390.56 444.7,389.52 445.6,390.22 446.2,393.97 447.4,394.18 447.8,389.58 448.73,390.12 449.65,389.72 450.57,390.4 451.5,390.79 452.45,391.73 453.4,391.99 454.35,390.93 455.3,391.11 456.25,391.35 457.2,391.5 458.15,392.03 459.1,392.33 460.05,391.99 461,391.76 462,393.78 462.9,391.8 463.85,392.34 464.8,393.15 465.75,393 466.7,392.97 467.65,393.36 468.6,393.69 469.55,392.99 470.5,394.5 471.45,394.77 472.4,395.36 473.4,391.45 474.45,390.99 475.5,391.15 476.55,390.86 477.6,391.8 478.65,391.09 479.7,391.25 480.75,391.61 481.8,391.69 482.85,392.11 483.9,391.83 484.93,391.75 485.96,391.98 486.99,391.9 488.02,392.3 489.05,391.79 490.08,393.06 491.12,392.67 492.15,391.97 493.18,392.13 494.21,392.27 495.24,392.3 496.27,391.93 497.3,393.02 498.25,393.32 499.2,392.61 500.15,392.72 501.1,392.2 502.05,392.3 503,392.74 503.95,392.71 504.9,393.63 505.85,392.71 506.8,392.58 507.86,394.04 508.91,393.48 509.97,392.97 511.02,393.63 512.08,392.92 513.13,393.74 514.19,394.48 515.24,394.38 516.3,394.19 517.25,393.86 518.2,394.33 519.15,394.35 520.1,395.57 521.05,395.53 522,396.22 523,393.04 523.96,392.93 524.92,393.87 525.88,394.18 526.83,394.03 527.79,394.01 528.75,394.08 529.71,394.01 530.67,393.29 531.62,393.78 532.58,393.58 533.54,393.14 534.5,393.9" fill="none" stroke="#e01f1f" stroke-width="2.1" stroke-linejoin="round"/>
<line x1="390.7" y1="388.4" x2="390.7" y2="367.6" stroke="#e01f1f" stroke-width="1.3"/>
<line x1="528.8" y1="384.3" x2="528.8" y2="404.4" stroke="#e01f1f" stroke-width="1.4"/>
<path d="M342.7,392.3 C342.73,393.25 342.75,396.3 342.9,398 C343.05,399.7 343.2,401.23 343.6,402.5 C344,403.77 344.57,404.85 345.3,405.6 C346.03,406.35 346.92,406.63 348,407 C349.08,407.37 349.8,407.55 351.8,407.8 C353.8,408.05 356.35,408.28 360,408.5 C363.65,408.72 368.87,408.9 373.7,409.1 C378.53,409.3 381.28,409.55 389,409.7 C396.72,409.85 409.83,409.93 420,410 C430.17,410.07 436.67,410.1 450,410.1 C463.33,410.1 485.87,410.05 500,410 C514.13,409.95 529,409.83 534.8,409.8" fill="none" stroke="#1b1bd0" stroke-width="1.7" stroke-linejoin="round" stroke-linecap="round"/>
<line x1="390.7" y1="409.8" x2="390.7" y2="400.4" stroke="#1b1bd0" stroke-width="1.3"/>
</svg>
</body></html>
